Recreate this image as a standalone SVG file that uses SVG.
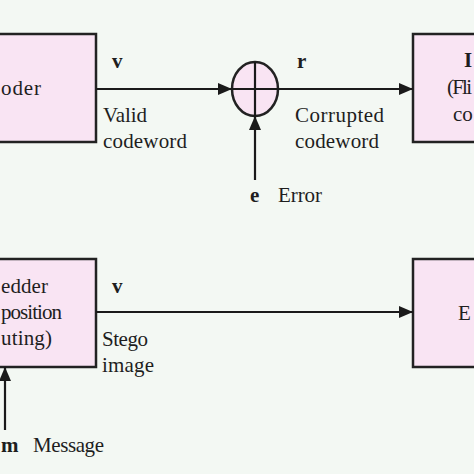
<svg xmlns="http://www.w3.org/2000/svg" width="474" height="474" viewBox="0 0 474 474">
<defs>
<marker id="ah" viewBox="0 0 14 12" refX="14" refY="6" markerWidth="15" markerHeight="12" markerUnits="userSpaceOnUse" orient="auto">
<path d="M0,0 L14,6 L0,12 Z" fill="#1a1a1a"/>
</marker>
<style>
.box{fill:#f9e4f3;stroke:#222;stroke-width:2.5}
.ln{stroke:#1a1a1a;stroke-width:2.2;fill:none}
.t{font-family:"Liberation Serif","Times New Roman",serif;font-size:21px;fill:#1e1e1e}
.b{font-weight:bold}
</style>
</defs>
<rect width="474" height="474" fill="#f3f8f3"/>
<g id="encoder">
<rect class="box" x="-5" y="34" width="101" height="108"/>
<text class="t" x="1" y="95" textLength="40">oder</text>
</g>
<g id="adder">
<ellipse class="box" cx="255" cy="89" rx="23" ry="27"/>
<line class="ln" x1="232" y1="89" x2="278" y2="89"/>
<line class="ln" x1="255" y1="62" x2="255" y2="116"/>
</g>
<g id="decoder">
<rect class="box" x="413" y="34" width="70" height="108"/>
<text class="t b" x="464" y="67">I</text>
<text class="t" x="447" y="94" textLength="25">(Fli</text>
<text class="t" x="453" y="121">co</text>
</g>
<g id="embedder">
<rect class="box" x="-5" y="259" width="101" height="108"/>
<text class="t" x="1" y="293" textLength="47">edder</text>
<text class="t" x="1" y="319" textLength="61">position</text>
<text class="t" x="1" y="345" textLength="51">uting)</text>
</g>
<g id="extractor">
<rect class="box" x="413" y="259" width="70" height="108"/>
<text class="t" x="458" y="320">E</text>
</g>
<g id="connectors">
<line class="ln" x1="96" y1="89" x2="232" y2="89" marker-end="url(#ah)"/>
<line class="ln" x1="278" y1="89" x2="413" y2="89" marker-end="url(#ah)"/>
<line class="ln" x1="255" y1="180" x2="255" y2="116" marker-end="url(#ah)"/>
<line class="ln" x1="96" y1="312" x2="413" y2="312" marker-end="url(#ah)"/>
<line class="ln" x1="5" y1="430" x2="5" y2="367" marker-end="url(#ah)"/>
</g>
<g id="labels">
<text class="t b" x="112" y="68">v</text>
<text class="t" x="103" y="122" textLength="44">Valid</text>
<text class="t" x="103" y="148" textLength="84">codeword</text>
<text class="t b" x="297" y="68">r</text>
<text class="t" x="295" y="122" textLength="89">Corrupted</text>
<text class="t" x="295" y="148" textLength="84">codeword</text>
<text class="t b" x="250" y="202">e</text>
<text class="t" x="278" y="202" textLength="44">Error</text>
<text class="t b" x="112" y="293">v</text>
<text class="t" x="102" y="346" textLength="46">Stego</text>
<text class="t" x="102" y="372" textLength="52">image</text>
<text class="t b" x="1" y="452">m</text>
<text class="t" x="33" y="452" textLength="71">Message</text>
</g>
</svg>
